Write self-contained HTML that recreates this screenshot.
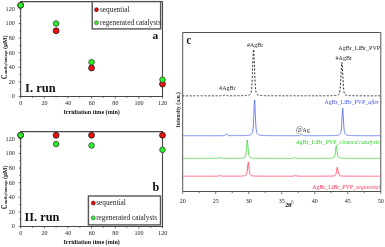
<!DOCTYPE html>
<html><head><meta charset="utf-8"><style>
html,body{margin:0;padding:0;background:#fff;width:385px;height:247px;overflow:hidden}
svg{display:block}
text{font-family:"Liberation Serif", "Times New Roman", serif;fill:#222}
.tk{font-size:6.8px;fill:#222}
.xt{font-size:6.55px;font-weight:bold;fill:#111}
.yt{font-size:7.5px;font-weight:bold;fill:#1a1a1a}
.yt.sub{font-size:4.1px}
.yt.um{font-size:6.5px}
.run{font-size:13px;font-weight:bold;fill:#111}
.pl{font-size:11px;font-weight:bold;fill:#111}
.lg{font-size:7.3px;fill:#222}
.cl{font-size:7.0px;fill:#2a2a2a}
.xt2{font-size:6.8px;font-weight:bold;fill:#222}
.deg{font-size:5.2px;font-weight:normal;fill:#555}
.yt2{font-size:5.65px;font-weight:bold;fill:#222}
</style></head><body>
<svg width="385" height="247" viewBox="0 0 385 247">
<path d="M20.65 1.6H162.5V96.5H20.65Z" fill="none" stroke="#474747" stroke-width="1.1"/>
<path d="M18.65 96.5H20.65" stroke="#474747" stroke-width="0.8"/>
<text transform="translate(14.75 98.4) scale(0.9 1)" text-anchor="end" class="tk">0</text>
<path d="M19.35 89.2H20.65" stroke="#474747" stroke-width="0.8"/>
<path d="M18.65 81.9H20.65" stroke="#474747" stroke-width="0.8"/>
<text transform="translate(14.75 83.8) scale(0.9 1)" text-anchor="end" class="tk">20</text>
<path d="M19.35 74.6H20.65" stroke="#474747" stroke-width="0.8"/>
<path d="M18.65 67.3H20.65" stroke="#474747" stroke-width="0.8"/>
<text transform="translate(14.75 69.2) scale(0.9 1)" text-anchor="end" class="tk">40</text>
<path d="M19.35 60H20.65" stroke="#474747" stroke-width="0.8"/>
<path d="M18.65 52.7H20.65" stroke="#474747" stroke-width="0.8"/>
<text transform="translate(14.75 54.6) scale(0.9 1)" text-anchor="end" class="tk">60</text>
<path d="M19.35 45.4H20.65" stroke="#474747" stroke-width="0.8"/>
<path d="M18.65 38.1H20.65" stroke="#474747" stroke-width="0.8"/>
<text transform="translate(14.75 40) scale(0.9 1)" text-anchor="end" class="tk">80</text>
<path d="M19.35 30.8H20.65" stroke="#474747" stroke-width="0.8"/>
<path d="M18.65 23.5H20.65" stroke="#474747" stroke-width="0.8"/>
<text transform="translate(14.75 25.4) scale(0.9 1)" text-anchor="end" class="tk">100</text>
<path d="M19.35 16.2H20.65" stroke="#474747" stroke-width="0.8"/>
<path d="M18.65 8.9H20.65" stroke="#474747" stroke-width="0.8"/>
<text transform="translate(14.75 10.8) scale(0.9 1)" text-anchor="end" class="tk">120</text>
<path d="M20.65 96.5V98.5" stroke="#474747" stroke-width="0.8"/>
<text transform="translate(20.85 105.4) scale(0.9 1)" text-anchor="middle" class="tk">0</text>
<path d="M32.47 96.5V97.8" stroke="#474747" stroke-width="0.8"/>
<path d="M44.29 96.5V98.5" stroke="#474747" stroke-width="0.8"/>
<text transform="translate(44.49 105.4) scale(0.9 1)" text-anchor="middle" class="tk">20</text>
<path d="M56.11 96.5V97.8" stroke="#474747" stroke-width="0.8"/>
<path d="M67.93 96.5V98.5" stroke="#474747" stroke-width="0.8"/>
<text transform="translate(68.13 105.4) scale(0.9 1)" text-anchor="middle" class="tk">40</text>
<path d="M79.75 96.5V97.8" stroke="#474747" stroke-width="0.8"/>
<path d="M91.57 96.5V98.5" stroke="#474747" stroke-width="0.8"/>
<text transform="translate(91.77 105.4) scale(0.9 1)" text-anchor="middle" class="tk">60</text>
<path d="M103.4 96.5V97.8" stroke="#474747" stroke-width="0.8"/>
<path d="M115.22 96.5V98.5" stroke="#474747" stroke-width="0.8"/>
<text transform="translate(115.42 105.4) scale(0.9 1)" text-anchor="middle" class="tk">80</text>
<path d="M127.04 96.5V97.8" stroke="#474747" stroke-width="0.8"/>
<path d="M138.86 96.5V98.5" stroke="#474747" stroke-width="0.8"/>
<text transform="translate(139.06 105.4) scale(0.9 1)" text-anchor="middle" class="tk">100</text>
<path d="M150.68 96.5V97.8" stroke="#474747" stroke-width="0.8"/>
<path d="M162.5 96.5V98.5" stroke="#474747" stroke-width="0.8"/>
<text transform="translate(162.7 105.4) scale(0.9 1)" text-anchor="middle" class="tk">120</text>
<text transform="translate(91.6 113.8) scale(0.93 1)" text-anchor="middle" class="xt">Irridiation time (min)</text>
<text transform="translate(6.6 78.9) rotate(-90) scale(0.82 1)" class="yt">C</text>
<text transform="translate(6.9 74.3) rotate(-90)" class="yt sub">methylorange</text>
<text transform="translate(6.6 48.9) rotate(-90) scale(0.95 1)" class="yt um">(μM)</text>
<text transform="translate(25 92.3) scale(0.965 1)" class="run">I. run</text>
<text x="152.5" y="39.4" class="pl" style="font-size:11.4px">a</text>
<rect x="92.2" y="1.6" width="68.4" height="27.3" fill="#fff" stroke="#555" stroke-width="1.4"/>
<circle cx="96.5" cy="9.7" r="2.0" fill="#f00" stroke="#222" stroke-width="0.6"/>
<text x="100" y="12" class="lg">sequential</text>
<circle cx="96.5" cy="22.8" r="2.0" fill="#3e3" stroke="#444" stroke-width="0.6"/>
<text x="100" y="24.9" class="lg">regenerated catalysts</text>
<circle cx="20.65" cy="5.25" r="2.95" fill="#f01010" stroke="#111" stroke-width="0.75"/>
<circle cx="20.65" cy="5.25" r="2.8" fill="#26f526" stroke="#333" stroke-width="0.75"/>
<circle cx="56.11" cy="30.8" r="2.95" fill="#f01010" stroke="#111" stroke-width="0.75"/>
<circle cx="56.11" cy="23.5" r="2.8" fill="#26f526" stroke="#333" stroke-width="0.75"/>
<circle cx="91.57" cy="68.03" r="2.95" fill="#f01010" stroke="#111" stroke-width="0.75"/>
<circle cx="91.57" cy="62.19" r="2.8" fill="#26f526" stroke="#333" stroke-width="0.75"/>
<circle cx="162.5" cy="84.09" r="2.95" fill="#f01010" stroke="#111" stroke-width="0.75"/>
<circle cx="162.5" cy="79.71" r="2.8" fill="#26f526" stroke="#333" stroke-width="0.75"/>
<path d="M20.65 131.6H162.5V226.5H20.65Z" fill="none" stroke="#474747" stroke-width="1.1"/>
<path d="M18.65 226.5H20.65" stroke="#474747" stroke-width="0.8"/>
<text transform="translate(14.75 228.4) scale(0.9 1)" text-anchor="end" class="tk">0</text>
<path d="M19.35 219.2H20.65" stroke="#474747" stroke-width="0.8"/>
<path d="M18.65 211.9H20.65" stroke="#474747" stroke-width="0.8"/>
<text transform="translate(14.75 213.8) scale(0.9 1)" text-anchor="end" class="tk">20</text>
<path d="M19.35 204.6H20.65" stroke="#474747" stroke-width="0.8"/>
<path d="M18.65 197.3H20.65" stroke="#474747" stroke-width="0.8"/>
<text transform="translate(14.75 199.2) scale(0.9 1)" text-anchor="end" class="tk">40</text>
<path d="M19.35 190H20.65" stroke="#474747" stroke-width="0.8"/>
<path d="M18.65 182.7H20.65" stroke="#474747" stroke-width="0.8"/>
<text transform="translate(14.75 184.6) scale(0.9 1)" text-anchor="end" class="tk">60</text>
<path d="M19.35 175.4H20.65" stroke="#474747" stroke-width="0.8"/>
<path d="M18.65 168.1H20.65" stroke="#474747" stroke-width="0.8"/>
<text transform="translate(14.75 170) scale(0.9 1)" text-anchor="end" class="tk">80</text>
<path d="M19.35 160.8H20.65" stroke="#474747" stroke-width="0.8"/>
<path d="M18.65 153.5H20.65" stroke="#474747" stroke-width="0.8"/>
<text transform="translate(14.75 155.4) scale(0.9 1)" text-anchor="end" class="tk">100</text>
<path d="M19.35 146.2H20.65" stroke="#474747" stroke-width="0.8"/>
<path d="M18.65 138.9H20.65" stroke="#474747" stroke-width="0.8"/>
<text transform="translate(14.75 140.8) scale(0.9 1)" text-anchor="end" class="tk">120</text>
<path d="M20.65 226.5V228.5" stroke="#474747" stroke-width="0.8"/>
<text transform="translate(20.85 235.4) scale(0.9 1)" text-anchor="middle" class="tk">0</text>
<path d="M32.47 226.5V227.8" stroke="#474747" stroke-width="0.8"/>
<path d="M44.29 226.5V228.5" stroke="#474747" stroke-width="0.8"/>
<text transform="translate(44.49 235.4) scale(0.9 1)" text-anchor="middle" class="tk">20</text>
<path d="M56.11 226.5V227.8" stroke="#474747" stroke-width="0.8"/>
<path d="M67.93 226.5V228.5" stroke="#474747" stroke-width="0.8"/>
<text transform="translate(68.13 235.4) scale(0.9 1)" text-anchor="middle" class="tk">40</text>
<path d="M79.75 226.5V227.8" stroke="#474747" stroke-width="0.8"/>
<path d="M91.57 226.5V228.5" stroke="#474747" stroke-width="0.8"/>
<text transform="translate(91.77 235.4) scale(0.9 1)" text-anchor="middle" class="tk">60</text>
<path d="M103.4 226.5V227.8" stroke="#474747" stroke-width="0.8"/>
<path d="M115.22 226.5V228.5" stroke="#474747" stroke-width="0.8"/>
<text transform="translate(115.42 235.4) scale(0.9 1)" text-anchor="middle" class="tk">80</text>
<path d="M127.04 226.5V227.8" stroke="#474747" stroke-width="0.8"/>
<path d="M138.86 226.5V228.5" stroke="#474747" stroke-width="0.8"/>
<text transform="translate(139.06 235.4) scale(0.9 1)" text-anchor="middle" class="tk">100</text>
<path d="M150.68 226.5V227.8" stroke="#474747" stroke-width="0.8"/>
<path d="M162.5 226.5V228.5" stroke="#474747" stroke-width="0.8"/>
<text transform="translate(162.7 235.4) scale(0.9 1)" text-anchor="middle" class="tk">120</text>
<text transform="translate(91.6 243.8) scale(0.93 1)" text-anchor="middle" class="xt">Irridiation time (min)</text>
<text transform="translate(6.6 208.9) rotate(-90) scale(0.82 1)" class="yt">C</text>
<text transform="translate(6.9 204.3) rotate(-90)" class="yt sub">methylorange</text>
<text transform="translate(6.6 178.9) rotate(-90) scale(0.95 1)" class="yt um">(μM)</text>
<text transform="translate(24.4 221.3) scale(0.95 1)" class="run">II. run</text>
<text x="152.4" y="190.6" class="pl" style="font-size:12.2px">b</text>
<rect x="88.4" y="196" width="72.1" height="28.9" fill="#fff" stroke="#555" stroke-width="1.4"/>
<circle cx="93.3" cy="203.1" r="2.0" fill="#f00" stroke="#222" stroke-width="0.6"/>
<text x="96.2" y="205.4" class="lg">sequential</text>
<circle cx="93.3" cy="217.9" r="2.0" fill="#3e3" stroke="#444" stroke-width="0.6"/>
<text x="96.2" y="219.9" class="lg">regenerated catalysts</text>
<circle cx="20.65" cy="135.25" r="2.95" fill="#f01010" stroke="#111" stroke-width="0.75"/>
<circle cx="20.65" cy="135.25" r="2.8" fill="#26f526" stroke="#333" stroke-width="0.75"/>
<circle cx="56.11" cy="135.25" r="2.95" fill="#f01010" stroke="#111" stroke-width="0.75"/>
<circle cx="56.11" cy="144.01" r="2.8" fill="#26f526" stroke="#333" stroke-width="0.75"/>
<circle cx="91.57" cy="135.25" r="2.95" fill="#f01010" stroke="#111" stroke-width="0.75"/>
<circle cx="91.57" cy="145.47" r="2.8" fill="#26f526" stroke="#333" stroke-width="0.75"/>
<circle cx="162.5" cy="135.25" r="2.95" fill="#f01010" stroke="#111" stroke-width="0.75"/>
<circle cx="162.5" cy="149.85" r="2.8" fill="#26f526" stroke="#333" stroke-width="0.75"/>
<path d="M182.7 32.5H380.8V191.5H182.7Z" fill="none" stroke="#4a4a4a" stroke-width="0.95"/>
<path d="M182.7 191.5V194.1" stroke="#555" stroke-width="0.8"/>
<text transform="translate(182.7 202.5) scale(0.9 1)" text-anchor="middle" class="tk">20</text>
<path d="M199.21 191.5V193.1" stroke="#555" stroke-width="0.8"/>
<path d="M215.72 191.5V194.1" stroke="#555" stroke-width="0.8"/>
<text transform="translate(215.72 202.5) scale(0.9 1)" text-anchor="middle" class="tk">25</text>
<path d="M232.22 191.5V193.1" stroke="#555" stroke-width="0.8"/>
<path d="M248.73 191.5V194.1" stroke="#555" stroke-width="0.8"/>
<text transform="translate(248.73 202.5) scale(0.9 1)" text-anchor="middle" class="tk">30</text>
<path d="M265.24 191.5V193.1" stroke="#555" stroke-width="0.8"/>
<path d="M281.75 191.5V194.1" stroke="#555" stroke-width="0.8"/>
<text transform="translate(281.75 202.5) scale(0.9 1)" text-anchor="middle" class="tk">35</text>
<path d="M298.26 191.5V193.1" stroke="#555" stroke-width="0.8"/>
<path d="M314.77 191.5V194.1" stroke="#555" stroke-width="0.8"/>
<text transform="translate(314.77 202.5) scale(0.9 1)" text-anchor="middle" class="tk">40</text>
<path d="M331.27 191.5V193.1" stroke="#555" stroke-width="0.8"/>
<path d="M347.78 191.5V194.1" stroke="#555" stroke-width="0.8"/>
<text transform="translate(347.78 202.5) scale(0.9 1)" text-anchor="middle" class="tk">45</text>
<path d="M364.29 191.5V193.1" stroke="#555" stroke-width="0.8"/>
<path d="M380.8 191.5V194.1" stroke="#555" stroke-width="0.8"/>
<text transform="translate(380.8 202.5) scale(0.9 1)" text-anchor="middle" class="tk">50</text>
<text x="285.1" y="206.7" class="xt2">2<tspan style="font-family:'DejaVu Serif',serif;font-size:5.3px" dx="-0.5">θ</tspan><tspan class="deg" dx="-0.5" dy="-2.6">0</tspan></text>
<text transform="translate(179.9 109.8) rotate(-90)" text-anchor="middle" class="yt2">Intensity (a.u.)</text>
<text transform="translate(186.4 44.1) scale(0.82 1)" class="pl" style="font-size:12.6px">c</text>
<polyline points="182.2,95.8 182.45,95.8 182.7,95.8 182.95,95.8 183.2,95.8 183.45,95.8 183.7,95.8 183.95,95.8 184.2,95.8 184.45,95.8 184.7,95.8 184.95,95.8 185.2,95.8 185.45,95.8 185.7,95.8 185.95,95.8 186.2,95.8 186.45,95.8 186.7,95.8 186.95,95.8 187.2,95.8 187.45,95.8 187.7,95.8 187.95,95.8 188.2,95.8 188.45,95.8 188.7,95.8 188.95,95.8 189.2,95.8 189.45,95.8 189.7,95.8 189.95,95.8 190.2,95.8 190.45,95.79 190.7,95.79 190.95,95.79 191.2,95.79 191.45,95.79 191.7,95.79 191.95,95.79 192.2,95.79 192.45,95.79 192.7,95.79 192.95,95.79 193.2,95.79 193.45,95.79 193.7,95.79 193.95,95.79 194.2,95.79 194.45,95.79 194.7,95.79 194.95,95.79 195.2,95.79 195.45,95.79 195.7,95.79 195.95,95.79 196.2,95.79 196.45,95.79 196.7,95.79 196.95,95.79 197.2,95.79 197.45,95.79 197.7,95.79 197.95,95.79 198.2,95.79 198.45,95.79 198.7,95.79 198.95,95.79 199.2,95.79 199.45,95.79 199.7,95.79 199.95,95.79 200.2,95.79 200.45,95.79 200.7,95.79 200.95,95.79 201.2,95.79 201.45,95.79 201.7,95.79 201.95,95.79 202.2,95.79 202.45,95.79 202.7,95.79 202.95,95.79 203.2,95.79 203.45,95.79 203.7,95.79 203.95,95.79 204.2,95.79 204.45,95.79 204.7,95.79 204.95,95.79 205.2,95.79 205.45,95.79 205.7,95.79 205.95,95.79 206.2,95.79 206.45,95.79 206.7,95.79 206.95,95.79 207.2,95.79 207.45,95.79 207.7,95.79 207.95,95.79 208.2,95.79 208.45,95.79 208.7,95.79 208.95,95.79 209.2,95.79 209.45,95.79 209.7,95.79 209.95,95.79 210.2,95.79 210.45,95.79 210.7,95.79 210.95,95.79 211.2,95.79 211.45,95.79 211.7,95.79 211.95,95.79 212.2,95.79 212.45,95.79 212.7,95.79 212.95,95.79 213.2,95.79 213.45,95.79 213.7,95.79 213.95,95.79 214.2,95.79 214.45,95.79 214.7,95.79 214.95,95.79 215.2,95.78 215.45,95.78 215.7,95.78 215.95,95.78 216.2,95.78 216.45,95.78 216.7,95.78 216.95,95.78 217.2,95.78 217.45,95.78 217.7,95.78 217.95,95.78 218.2,95.78 218.45,95.78 218.7,95.78 218.95,95.78 219.2,95.78 219.45,95.78 219.7,95.78 219.95,95.77 220.2,95.77 220.45,95.77 220.7,95.77 220.95,95.77 221.2,95.77 221.45,95.76 221.7,95.76 221.95,95.76 222.2,95.75 222.45,95.74 222.7,95.73 222.95,95.7 223.2,95.67 223.45,95.62 223.7,95.54 223.95,95.45 224.2,95.33 224.45,95.21 224.7,95.09 224.95,95.01 225.2,94.98 225.45,95.01 225.7,95.09 225.95,95.21 226.2,95.33 226.45,95.44 226.7,95.54 226.95,95.61 227.2,95.66 227.45,95.7 227.7,95.72 227.95,95.73 228.2,95.74 228.45,95.75 228.7,95.75 228.95,95.75 229.2,95.75 229.45,95.75 229.7,95.76 229.95,95.76 230.2,95.76 230.45,95.76 230.7,95.76 230.95,95.76 231.2,95.76 231.45,95.76 231.7,95.76 231.95,95.76 232.2,95.76 232.45,95.76 232.7,95.76 232.95,95.75 233.2,95.75 233.45,95.75 233.7,95.75 233.95,95.75 234.2,95.75 234.45,95.75 234.7,95.75 234.95,95.75 235.2,95.75 235.45,95.74 235.7,95.74 235.95,95.74 236.2,95.74 236.45,95.74 236.7,95.74 236.95,95.74 237.2,95.73 237.45,95.73 237.7,95.73 237.95,95.73 238.2,95.73 238.45,95.72 238.7,95.72 238.95,95.72 239.2,95.72 239.45,95.71 239.7,95.71 239.95,95.71 240.2,95.7 240.45,95.7 240.7,95.7 240.95,95.69 241.2,95.69 241.45,95.68 241.7,95.68 241.95,95.67 242.2,95.67 242.45,95.66 242.7,95.66 242.95,95.65 243.2,95.64 243.45,95.63 243.7,95.63 243.95,95.62 244.2,95.61 244.45,95.6 244.7,95.59 244.95,95.57 245.2,95.56 245.45,95.55 245.7,95.53 245.95,95.51 246.2,95.49 246.45,95.47 246.7,95.45 246.95,95.42 247.2,95.4 247.45,95.36 247.7,95.33 247.95,95.29 248.2,95.24 248.45,95.19 248.7,95.12 248.95,95.05 249.2,94.97 249.45,94.87 249.7,94.76 249.95,94.61 250.2,94.42 250.45,94.16 250.7,93.77 250.95,93.15 251.2,92.15 251.45,90.57 251.7,88.13 251.95,84.59 252.2,79.78 252.45,73.73 252.7,66.79 252.95,59.67 253.2,53.51 253.45,49.67 253.7,49.3 253.95,52.51 254.2,58.32 254.45,65.35 254.7,72.4 254.95,78.66 255.2,83.73 255.45,87.52 255.7,90.16 255.95,91.89 256.2,92.98 256.45,93.67 256.7,94.09 256.95,94.38 257.2,94.58 257.45,94.73 257.7,94.85 257.95,94.95 258.2,95.04 258.45,95.11 258.7,95.17 258.95,95.23 259.2,95.28 259.45,95.32 259.7,95.36 259.95,95.39 260.2,95.42 260.45,95.44 260.7,95.47 260.95,95.49 261.2,95.51 261.45,95.53 261.7,95.54 261.95,95.56 262.2,95.57 262.45,95.58 262.7,95.6 262.95,95.61 263.2,95.62 263.45,95.62 263.7,95.63 263.95,95.64 264.2,95.65 264.45,95.65 264.7,95.66 264.95,95.67 265.2,95.67 265.45,95.68 265.7,95.68 265.95,95.69 266.2,95.69 266.45,95.7 266.7,95.7 266.95,95.7 267.2,95.71 267.45,95.71 267.7,95.71 267.95,95.72 268.2,95.72 268.45,95.72 268.7,95.72 268.95,95.73 269.2,95.73 269.45,95.73 269.7,95.73 269.95,95.73 270.2,95.74 270.45,95.74 270.7,95.74 270.95,95.74 271.2,95.74 271.45,95.74 271.7,95.75 271.95,95.75 272.2,95.75 272.45,95.75 272.7,95.75 272.95,95.75 273.2,95.75 273.45,95.75 273.7,95.76 273.95,95.76 274.2,95.76 274.45,95.76 274.7,95.76 274.95,95.76 275.2,95.76 275.45,95.76 275.7,95.76 275.95,95.76 276.2,95.76 276.45,95.76 276.7,95.77 276.95,95.77 277.2,95.77 277.45,95.77 277.7,95.77 277.95,95.77 278.2,95.77 278.45,95.77 278.7,95.77 278.95,95.77 279.2,95.77 279.45,95.77 279.7,95.77 279.95,95.77 280.2,95.77 280.45,95.77 280.7,95.77 280.95,95.77 281.2,95.77 281.45,95.77 281.7,95.78 281.95,95.78 282.2,95.78 282.45,95.78 282.7,95.78 282.95,95.78 283.2,95.78 283.45,95.78 283.7,95.78 283.95,95.78 284.2,95.78 284.45,95.78 284.7,95.78 284.95,95.78 285.2,95.78 285.45,95.78 285.7,95.78 285.95,95.78 286.2,95.78 286.45,95.78 286.7,95.78 286.95,95.78 287.2,95.78 287.45,95.78 287.7,95.78 287.95,95.78 288.2,95.78 288.45,95.78 288.7,95.78 288.95,95.78 289.2,95.78 289.45,95.78 289.7,95.78 289.95,95.78 290.2,95.78 290.45,95.78 290.7,95.78 290.95,95.78 291.2,95.78 291.45,95.78 291.7,95.78 291.95,95.78 292.2,95.78 292.45,95.78 292.7,95.78 292.95,95.78 293.2,95.78 293.45,95.78 293.7,95.78 293.95,95.78 294.2,95.78 294.45,95.78 294.7,95.78 294.95,95.78 295.2,95.78 295.45,95.78 295.7,95.78 295.95,95.78 296.2,95.78 296.45,95.78 296.7,95.78 296.95,95.78 297.2,95.78 297.45,95.78 297.7,95.78 297.95,95.79 298.2,95.79 298.45,95.79 298.7,95.79 298.95,95.79 299.2,95.79 299.45,95.79 299.7,95.79 299.95,95.79 300.2,95.79 300.45,95.79 300.7,95.79 300.95,95.79 301.2,95.79 301.45,95.79 301.7,95.79 301.95,95.79 302.2,95.79 302.45,95.79 302.7,95.78 302.95,95.78 303.2,95.78 303.45,95.78 303.7,95.78 303.95,95.78 304.2,95.78 304.45,95.78 304.7,95.78 304.95,95.78 305.2,95.78 305.45,95.78 305.7,95.78 305.95,95.78 306.2,95.78 306.45,95.78 306.7,95.78 306.95,95.78 307.2,95.78 307.45,95.78 307.7,95.78 307.95,95.78 308.2,95.78 308.45,95.78 308.7,95.78 308.95,95.78 309.2,95.78 309.45,95.78 309.7,95.78 309.95,95.78 310.2,95.78 310.45,95.78 310.7,95.78 310.95,95.78 311.2,95.78 311.45,95.78 311.7,95.78 311.95,95.78 312.2,95.78 312.45,95.78 312.7,95.78 312.95,95.78 313.2,95.78 313.45,95.78 313.7,95.78 313.95,95.78 314.2,95.78 314.45,95.78 314.7,95.78 314.95,95.78 315.2,95.78 315.45,95.78 315.7,95.78 315.95,95.78 316.2,95.78 316.45,95.78 316.7,95.78 316.95,95.78 317.2,95.78 317.45,95.78 317.7,95.78 317.95,95.77 318.2,95.77 318.45,95.77 318.7,95.77 318.95,95.77 319.2,95.77 319.45,95.77 319.7,95.77 319.95,95.77 320.2,95.77 320.45,95.77 320.7,95.77 320.95,95.77 321.2,95.77 321.45,95.77 321.7,95.77 321.95,95.77 322.2,95.77 322.45,95.76 322.7,95.76 322.95,95.76 323.2,95.76 323.45,95.76 323.7,95.76 323.95,95.76 324.2,95.76 324.45,95.76 324.7,95.76 324.95,95.75 325.2,95.75 325.45,95.75 325.7,95.75 325.95,95.75 326.2,95.75 326.45,95.75 326.7,95.74 326.95,95.74 327.2,95.74 327.45,95.74 327.7,95.74 327.95,95.73 328.2,95.73 328.45,95.73 328.7,95.73 328.95,95.72 329.2,95.72 329.45,95.72 329.7,95.72 329.95,95.71 330.2,95.71 330.45,95.7 330.7,95.7 330.95,95.7 331.2,95.69 331.45,95.69 331.7,95.68 331.95,95.68 332.2,95.67 332.45,95.66 332.7,95.66 332.95,95.65 333.2,95.64 333.45,95.63 333.7,95.62 333.95,95.61 334.2,95.6 334.45,95.58 334.7,95.57 334.95,95.55 335.2,95.53 335.45,95.51 335.7,95.49 335.95,95.46 336.2,95.44 336.45,95.4 336.7,95.37 336.95,95.32 337.2,95.27 337.45,95.22 337.7,95.15 337.95,95.07 338.2,94.97 338.45,94.84 338.7,94.67 338.95,94.41 339.2,94 339.45,93.35 339.7,92.31 339.95,90.7 340.2,88.33 340.45,85.06 340.7,80.89 340.95,76 341.2,70.86 341.45,66.22 341.7,63.05 341.95,62.25 342.2,64.08 342.45,67.96 342.7,72.9 342.95,78.02 343.2,82.66 343.45,86.48 343.7,89.38 343.95,91.43 344.2,92.79 344.45,93.65 344.7,94.19 344.95,94.52 345.2,94.74 345.45,94.9 345.7,95.01 345.95,95.1 346.2,95.18 346.45,95.24 346.7,95.3 346.95,95.34 347.2,95.38 347.45,95.42 347.7,95.45 347.95,95.48 348.2,95.5 348.45,95.52 348.7,95.54 348.95,95.56 349.2,95.57 349.45,95.59 349.7,95.6 349.95,95.61 350.2,95.62 350.45,95.63 350.7,95.64 350.95,95.65 351.2,95.66 351.45,95.67 351.7,95.67 351.95,95.68 352.2,95.68 352.45,95.69 352.7,95.69 352.95,95.7 353.2,95.7 353.45,95.71 353.7,95.71 353.95,95.71 354.2,95.72 354.45,95.72 354.7,95.72 354.95,95.73 355.2,95.73 355.45,95.73 355.7,95.73 355.95,95.74 356.2,95.74 356.45,95.74 356.7,95.74 356.95,95.74 357.2,95.75 357.45,95.75 357.7,95.75 357.95,95.75 358.2,95.75 358.45,95.75 358.7,95.76 358.95,95.76 359.2,95.76 359.45,95.76 359.7,95.76 359.95,95.76 360.2,95.76 360.45,95.76 360.7,95.76 360.95,95.77 361.2,95.77 361.45,95.77 361.7,95.77 361.95,95.77 362.2,95.77 362.45,95.77 362.7,95.77 362.95,95.77 363.2,95.77 363.45,95.77 363.7,95.77 363.95,95.77 364.2,95.77 364.45,95.77 364.7,95.78 364.95,95.78 365.2,95.78 365.45,95.78 365.7,95.78 365.95,95.78 366.2,95.78 366.45,95.78 366.7,95.78 366.95,95.78 367.2,95.78 367.45,95.78 367.7,95.78 367.95,95.78 368.2,95.78 368.45,95.78 368.7,95.78 368.95,95.78 369.2,95.78 369.45,95.78 369.7,95.78 369.95,95.78 370.2,95.78 370.45,95.78 370.7,95.78 370.95,95.78 371.2,95.78 371.45,95.78 371.7,95.79 371.95,95.79 372.2,95.79 372.45,95.79 372.7,95.79 372.95,95.79 373.2,95.79 373.45,95.79 373.7,95.79 373.95,95.79 374.2,95.79 374.45,95.79 374.7,95.79 374.95,95.79 375.2,95.79 375.45,95.79 375.7,95.79 375.95,95.79 376.2,95.79 376.45,95.79 376.7,95.79 376.95,95.79 377.2,95.79 377.45,95.79 377.7,95.79 377.95,95.79 378.2,95.79 378.45,95.79 378.7,95.79 378.95,95.79 379.2,95.79 379.45,95.79 379.7,95.79 379.95,95.79 380.2,95.79" fill="none" stroke="#333" stroke-width="1" stroke-dasharray="2.1 1.6"/>
<polyline points="183.2,135.7 183.45,135.7 183.7,135.7 183.95,135.7 184.2,135.7 184.45,135.7 184.7,135.7 184.95,135.7 185.2,135.7 185.45,135.7 185.7,135.7 185.95,135.7 186.2,135.7 186.45,135.7 186.7,135.7 186.95,135.7 187.2,135.7 187.45,135.7 187.7,135.7 187.95,135.7 188.2,135.7 188.45,135.7 188.7,135.7 188.95,135.7 189.2,135.7 189.45,135.7 189.7,135.7 189.95,135.69 190.2,135.69 190.45,135.69 190.7,135.69 190.95,135.69 191.2,135.69 191.45,135.69 191.7,135.69 191.95,135.69 192.2,135.69 192.45,135.69 192.7,135.69 192.95,135.69 193.2,135.69 193.45,135.69 193.7,135.69 193.95,135.69 194.2,135.69 194.45,135.69 194.7,135.69 194.95,135.69 195.2,135.69 195.45,135.69 195.7,135.69 195.95,135.69 196.2,135.69 196.45,135.69 196.7,135.69 196.95,135.69 197.2,135.69 197.45,135.69 197.7,135.69 197.95,135.69 198.2,135.69 198.45,135.69 198.7,135.69 198.95,135.69 199.2,135.69 199.45,135.69 199.7,135.69 199.95,135.69 200.2,135.69 200.45,135.69 200.7,135.69 200.95,135.69 201.2,135.69 201.45,135.69 201.7,135.69 201.95,135.69 202.2,135.69 202.45,135.69 202.7,135.69 202.95,135.69 203.2,135.69 203.45,135.69 203.7,135.69 203.95,135.69 204.2,135.69 204.45,135.69 204.7,135.69 204.95,135.69 205.2,135.69 205.45,135.69 205.7,135.69 205.95,135.69 206.2,135.69 206.45,135.69 206.7,135.69 206.95,135.69 207.2,135.69 207.45,135.69 207.7,135.69 207.95,135.69 208.2,135.69 208.45,135.69 208.7,135.69 208.95,135.69 209.2,135.69 209.45,135.69 209.7,135.69 209.95,135.69 210.2,135.69 210.45,135.69 210.7,135.69 210.95,135.69 211.2,135.69 211.45,135.69 211.7,135.69 211.95,135.69 212.2,135.69 212.45,135.69 212.7,135.69 212.95,135.69 213.2,135.69 213.45,135.69 213.7,135.69 213.95,135.69 214.2,135.69 214.45,135.69 214.7,135.69 214.95,135.68 215.2,135.68 215.45,135.68 215.7,135.68 215.95,135.68 216.2,135.68 216.45,135.68 216.7,135.68 216.95,135.68 217.2,135.68 217.45,135.68 217.7,135.68 217.95,135.68 218.2,135.68 218.45,135.68 218.7,135.68 218.95,135.68 219.2,135.68 219.45,135.68 219.7,135.68 219.95,135.67 220.2,135.67 220.45,135.67 220.7,135.67 220.95,135.67 221.2,135.67 221.45,135.67 221.7,135.66 221.95,135.66 222.2,135.66 222.45,135.66 222.7,135.65 222.95,135.65 223.2,135.64 223.45,135.63 223.7,135.62 223.95,135.61 224.2,135.58 224.45,135.54 224.7,135.45 224.95,135.32 225.2,135.12 225.45,134.84 225.7,134.51 225.95,134.19 226.2,133.94 226.45,133.88 226.7,134.02 226.95,134.31 227.2,134.64 227.45,134.95 227.7,135.2 227.95,135.38 228.2,135.49 228.45,135.55 228.7,135.59 228.95,135.61 229.2,135.62 229.45,135.62 229.7,135.63 229.95,135.63 230.2,135.64 230.45,135.64 230.7,135.64 230.95,135.64 231.2,135.64 231.45,135.64 231.7,135.64 231.95,135.64 232.2,135.63 232.45,135.63 232.7,135.61 232.95,135.58 233.2,135.53 233.45,135.44 233.7,135.33 233.95,135.19 234.2,135.08 234.45,135.05 234.7,135.12 234.95,135.24 235.2,135.37 235.45,135.48 235.7,135.55 235.95,135.59 236.2,135.61 236.45,135.62 236.7,135.62 236.95,135.63 237.2,135.63 237.45,135.63 237.7,135.63 237.95,135.63 238.2,135.63 238.45,135.62 238.7,135.62 238.95,135.62 239.2,135.62 239.45,135.62 239.7,135.62 239.95,135.61 240.2,135.61 240.45,135.61 240.7,135.61 240.95,135.6 241.2,135.6 241.45,135.6 241.7,135.59 241.95,135.59 242.2,135.59 242.45,135.58 242.7,135.58 242.95,135.57 243.2,135.57 243.45,135.56 243.7,135.55 243.95,135.55 244.2,135.54 244.45,135.53 244.7,135.52 244.95,135.52 245.2,135.51 245.45,135.5 245.7,135.48 245.95,135.47 246.2,135.46 246.45,135.44 246.7,135.43 246.95,135.41 247.2,135.39 247.45,135.37 247.7,135.35 247.95,135.32 248.2,135.29 248.45,135.26 248.7,135.22 248.95,135.18 249.2,135.13 249.45,135.07 249.7,135.01 249.95,134.94 250.2,134.85 250.45,134.75 250.7,134.63 250.95,134.49 251.2,134.31 251.45,134.1 251.7,133.83 251.95,133.49 252.2,133.02 252.45,132.37 252.7,131.38 252.95,129.83 253.2,127.43 253.45,123.82 253.7,118.78 253.95,112.4 254.2,105.57 254.45,100.48 254.7,99.94 254.95,104.31 255.2,111.02 255.45,117.6 255.7,122.93 255.95,126.81 256.2,129.43 256.45,131.12 256.7,132.2 256.95,132.91 257.2,133.41 257.45,133.77 257.7,134.05 257.95,134.27 258.2,134.45 258.45,134.6 258.7,134.73 258.95,134.83 259.2,134.92 259.45,135 259.7,135.06 259.95,135.12 260.2,135.17 260.45,135.21 260.7,135.25 260.95,135.28 261.2,135.31 261.45,135.34 261.7,135.36 261.95,135.39 262.2,135.41 262.45,135.42 262.7,135.44 262.95,135.46 263.2,135.47 263.45,135.48 263.7,135.49 263.95,135.5 264.2,135.51 264.45,135.52 264.7,135.53 264.95,135.54 265.2,135.55 265.45,135.55 265.7,135.56 265.95,135.57 266.2,135.57 266.45,135.58 266.7,135.58 266.95,135.59 267.2,135.59 267.45,135.59 267.7,135.6 267.95,135.6 268.2,135.61 268.45,135.61 268.7,135.61 268.95,135.61 269.2,135.62 269.45,135.62 269.7,135.62 269.95,135.62 270.2,135.63 270.45,135.63 270.7,135.63 270.95,135.63 271.2,135.64 271.45,135.64 271.7,135.64 271.95,135.64 272.2,135.64 272.45,135.64 272.7,135.64 272.95,135.65 273.2,135.65 273.45,135.65 273.7,135.65 273.95,135.65 274.2,135.65 274.45,135.65 274.7,135.65 274.95,135.66 275.2,135.66 275.45,135.66 275.7,135.66 275.95,135.66 276.2,135.66 276.45,135.66 276.7,135.66 276.95,135.66 277.2,135.66 277.45,135.66 277.7,135.66 277.95,135.66 278.2,135.67 278.45,135.67 278.7,135.67 278.95,135.67 279.2,135.67 279.45,135.67 279.7,135.67 279.95,135.67 280.2,135.67 280.45,135.67 280.7,135.67 280.95,135.67 281.2,135.67 281.45,135.67 281.7,135.67 281.95,135.67 282.2,135.67 282.45,135.67 282.7,135.67 282.95,135.67 283.2,135.67 283.45,135.67 283.7,135.67 283.95,135.68 284.2,135.68 284.45,135.68 284.7,135.68 284.95,135.68 285.2,135.68 285.45,135.68 285.7,135.68 285.95,135.68 286.2,135.68 286.45,135.68 286.7,135.68 286.95,135.68 287.2,135.68 287.45,135.68 287.7,135.68 287.95,135.68 288.2,135.68 288.45,135.68 288.7,135.68 288.95,135.68 289.2,135.68 289.45,135.68 289.7,135.68 289.95,135.68 290.2,135.68 290.45,135.68 290.7,135.68 290.95,135.68 291.2,135.68 291.45,135.68 291.7,135.68 291.95,135.68 292.2,135.68 292.45,135.68 292.7,135.68 292.95,135.68 293.2,135.68 293.45,135.68 293.7,135.68 293.95,135.68 294.2,135.68 294.45,135.68 294.7,135.68 294.95,135.68 295.2,135.68 295.45,135.67 295.7,135.67 295.95,135.67 296.2,135.67 296.45,135.67 296.7,135.67 296.95,135.67 297.2,135.67 297.45,135.66 297.7,135.66 297.95,135.66 298.2,135.66 298.45,135.65 298.7,135.65 298.95,135.64 299.2,135.63 299.45,135.6 299.7,135.57 299.95,135.51 300.2,135.42 300.45,135.29 300.7,135.11 300.95,134.91 301.2,134.69 301.45,134.5 301.7,134.39 301.95,134.41 302.2,134.53 302.45,134.73 302.7,134.95 302.95,135.15 303.2,135.32 303.45,135.44 303.7,135.53 303.95,135.58 304.2,135.61 304.45,135.63 304.7,135.64 304.95,135.65 305.2,135.65 305.45,135.66 305.7,135.66 305.95,135.66 306.2,135.66 306.45,135.67 306.7,135.67 306.95,135.67 307.2,135.67 307.45,135.67 307.7,135.67 307.95,135.67 308.2,135.67 308.45,135.67 308.7,135.67 308.95,135.68 309.2,135.68 309.45,135.68 309.7,135.68 309.95,135.68 310.2,135.68 310.45,135.68 310.7,135.68 310.95,135.68 311.2,135.68 311.45,135.68 311.7,135.68 311.95,135.68 312.2,135.68 312.45,135.68 312.7,135.68 312.95,135.68 313.2,135.68 313.45,135.68 313.7,135.68 313.95,135.68 314.2,135.68 314.45,135.68 314.7,135.68 314.95,135.68 315.2,135.68 315.45,135.68 315.7,135.68 315.95,135.68 316.2,135.68 316.45,135.67 316.7,135.67 316.95,135.67 317.2,135.67 317.45,135.67 317.7,135.67 317.95,135.67 318.2,135.67 318.45,135.67 318.7,135.67 318.95,135.67 319.2,135.67 319.45,135.67 319.7,135.67 319.95,135.67 320.2,135.67 320.45,135.67 320.7,135.67 320.95,135.67 321.2,135.67 321.45,135.67 321.7,135.67 321.95,135.67 322.2,135.66 322.45,135.66 322.7,135.66 322.95,135.66 323.2,135.66 323.45,135.66 323.7,135.66 323.95,135.66 324.2,135.66 324.45,135.66 324.7,135.66 324.95,135.65 325.2,135.65 325.45,135.65 325.7,135.65 325.95,135.65 326.2,135.65 326.45,135.65 326.7,135.65 326.95,135.64 327.2,135.64 327.45,135.64 327.7,135.64 327.95,135.64 328.2,135.64 328.45,135.63 328.7,135.63 328.95,135.63 329.2,135.63 329.45,135.62 329.7,135.62 329.95,135.62 330.2,135.61 330.45,135.61 330.7,135.61 330.95,135.6 331.2,135.6 331.45,135.6 331.7,135.59 331.95,135.59 332.2,135.58 332.45,135.57 332.7,135.57 332.95,135.56 333.2,135.55 333.45,135.55 333.7,135.54 333.95,135.53 334.2,135.52 334.45,135.51 334.7,135.5 334.95,135.48 335.2,135.47 335.45,135.45 335.7,135.44 335.95,135.42 336.2,135.4 336.45,135.37 336.7,135.35 336.95,135.31 337.2,135.28 337.45,135.24 337.7,135.2 337.95,135.14 338.2,135.08 338.45,135.01 338.7,134.92 338.95,134.82 339.2,134.7 339.45,134.55 339.7,134.37 339.95,134.13 340.2,133.82 340.45,133.39 340.7,132.76 340.95,131.78 341.2,130.24 341.45,127.9 341.7,124.51 341.95,120.04 342.2,114.85 342.45,110.18 342.7,108.2 342.95,110.18 343.2,114.85 343.45,120.04 343.7,124.51 343.95,127.9 344.2,130.24 344.45,131.78 344.7,132.76 344.95,133.39 345.2,133.82 345.45,134.13 345.7,134.37 345.95,134.55 346.2,134.7 346.45,134.82 346.7,134.93 346.95,135.01 347.2,135.08 347.45,135.14 347.7,135.2 347.95,135.24 348.2,135.28 348.45,135.32 348.7,135.35 348.95,135.37 349.2,135.4 349.45,135.42 349.7,135.44 349.95,135.46 350.2,135.47 350.45,135.49 350.7,135.5 350.95,135.51 351.2,135.52 351.45,135.53 351.7,135.54 351.95,135.55 352.2,135.56 352.45,135.56 352.7,135.57 352.95,135.58 353.2,135.58 353.45,135.59 353.7,135.59 353.95,135.6 354.2,135.6 354.45,135.61 354.7,135.61 354.95,135.61 355.2,135.62 355.45,135.62 355.7,135.62 355.95,135.62 356.2,135.63 356.45,135.63 356.7,135.63 356.95,135.63 357.2,135.64 357.45,135.64 357.7,135.64 357.95,135.64 358.2,135.64 358.45,135.65 358.7,135.65 358.95,135.65 359.2,135.65 359.45,135.65 359.7,135.65 359.95,135.66 360.2,135.66 360.45,135.66 360.7,135.66 360.95,135.66 361.2,135.66 361.45,135.66 361.7,135.66 361.95,135.66 362.2,135.66 362.45,135.67 362.7,135.67 362.95,135.67 363.2,135.67 363.45,135.67 363.7,135.67 363.95,135.67 364.2,135.67 364.45,135.67 364.7,135.67 364.95,135.67 365.2,135.67 365.45,135.67 365.7,135.67 365.95,135.67 366.2,135.68 366.45,135.68 366.7,135.68 366.95,135.68 367.2,135.68 367.45,135.68 367.7,135.68 367.95,135.68 368.2,135.68 368.45,135.68 368.7,135.68 368.95,135.68 369.2,135.68 369.45,135.68 369.7,135.68 369.95,135.68 370.2,135.68 370.45,135.68 370.7,135.68 370.95,135.68 371.2,135.68 371.45,135.68 371.7,135.68 371.95,135.68 372.2,135.68 372.45,135.68 372.7,135.68 372.95,135.68 373.2,135.68 373.45,135.69 373.7,135.69 373.95,135.69 374.2,135.69 374.45,135.69 374.7,135.69 374.95,135.69 375.2,135.69 375.45,135.69 375.7,135.69 375.95,135.69 376.2,135.69 376.45,135.69 376.7,135.69 376.95,135.69 377.2,135.69 377.45,135.69 377.7,135.69 377.95,135.69 378.2,135.69 378.45,135.69 378.7,135.69 378.95,135.69 379.2,135.69 379.45,135.69 379.7,135.69 379.95,135.69 380.2,135.69" fill="none" stroke="#4d63e6" stroke-width="0.8"/>
<polyline points="183.2,158.4 183.45,158.4 183.7,158.4 183.95,158.4 184.2,158.4 184.45,158.4 184.7,158.4 184.95,158.4 185.2,158.4 185.45,158.4 185.7,158.4 185.95,158.4 186.2,158.4 186.45,158.4 186.7,158.4 186.95,158.4 187.2,158.4 187.45,158.4 187.7,158.4 187.95,158.4 188.2,158.4 188.45,158.4 188.7,158.4 188.95,158.4 189.2,158.4 189.45,158.4 189.7,158.4 189.95,158.4 190.2,158.4 190.45,158.4 190.7,158.4 190.95,158.4 191.2,158.4 191.45,158.4 191.7,158.4 191.95,158.4 192.2,158.4 192.45,158.4 192.7,158.4 192.95,158.4 193.2,158.4 193.45,158.4 193.7,158.4 193.95,158.4 194.2,158.4 194.45,158.4 194.7,158.4 194.95,158.4 195.2,158.4 195.45,158.4 195.7,158.4 195.95,158.4 196.2,158.4 196.45,158.4 196.7,158.4 196.95,158.4 197.2,158.4 197.45,158.4 197.7,158.4 197.95,158.4 198.2,158.4 198.45,158.4 198.7,158.4 198.95,158.4 199.2,158.4 199.45,158.4 199.7,158.4 199.95,158.4 200.2,158.4 200.45,158.4 200.7,158.4 200.95,158.4 201.2,158.4 201.45,158.4 201.7,158.4 201.95,158.4 202.2,158.4 202.45,158.39 202.7,158.39 202.95,158.39 203.2,158.39 203.45,158.39 203.7,158.39 203.95,158.39 204.2,158.39 204.45,158.39 204.7,158.39 204.95,158.39 205.2,158.39 205.45,158.39 205.7,158.39 205.95,158.39 206.2,158.39 206.45,158.39 206.7,158.39 206.95,158.39 207.2,158.39 207.45,158.39 207.7,158.39 207.95,158.39 208.2,158.39 208.45,158.39 208.7,158.39 208.95,158.39 209.2,158.39 209.45,158.39 209.7,158.39 209.95,158.39 210.2,158.39 210.45,158.39 210.7,158.39 210.95,158.39 211.2,158.39 211.45,158.39 211.7,158.39 211.95,158.39 212.2,158.39 212.45,158.39 212.7,158.39 212.95,158.39 213.2,158.39 213.45,158.39 213.7,158.39 213.95,158.38 214.2,158.38 214.45,158.38 214.7,158.38 214.95,158.38 215.2,158.38 215.45,158.38 215.7,158.37 215.95,158.37 216.2,158.37 216.45,158.36 216.7,158.36 216.95,158.35 217.2,158.34 217.45,158.31 217.7,158.27 217.95,158.18 218.2,158.04 218.45,157.84 218.7,157.59 218.95,157.35 219.2,157.2 219.45,157.22 219.7,157.39 219.95,157.64 220.2,157.88 220.45,158.07 220.7,158.2 220.95,158.28 221.2,158.32 221.45,158.34 221.7,158.35 221.95,158.36 222.2,158.36 222.45,158.36 222.7,158.37 222.95,158.37 223.2,158.37 223.45,158.37 223.7,158.37 223.95,158.37 224.2,158.38 224.45,158.38 224.7,158.38 224.95,158.38 225.2,158.38 225.45,158.38 225.7,158.38 225.95,158.38 226.2,158.38 226.45,158.38 226.7,158.38 226.95,158.38 227.2,158.38 227.45,158.38 227.7,158.38 227.95,158.38 228.2,158.38 228.45,158.37 228.7,158.37 228.95,158.37 229.2,158.37 229.45,158.37 229.7,158.37 229.95,158.37 230.2,158.37 230.45,158.37 230.7,158.37 230.95,158.37 231.2,158.37 231.45,158.37 231.7,158.37 231.95,158.36 232.2,158.36 232.45,158.36 232.7,158.36 232.95,158.36 233.2,158.36 233.45,158.36 233.7,158.36 233.95,158.35 234.2,158.35 234.45,158.35 234.7,158.35 234.95,158.35 235.2,158.34 235.45,158.34 235.7,158.34 235.95,158.34 236.2,158.34 236.45,158.33 236.7,158.33 236.95,158.33 237.2,158.32 237.45,158.32 237.7,158.31 237.95,158.31 238.2,158.3 238.45,158.3 238.7,158.29 238.95,158.29 239.2,158.28 239.45,158.27 239.7,158.26 239.95,158.26 240.2,158.24 240.45,158.23 240.7,158.22 240.95,158.21 241.2,158.19 241.45,158.17 241.7,158.15 241.95,158.13 242.2,158.1 242.45,158.07 242.7,158.04 242.95,158 243.2,157.95 243.45,157.89 243.7,157.83 243.95,157.74 244.2,157.64 244.45,157.51 244.7,157.33 244.95,157.09 245.2,156.72 245.45,156.14 245.7,155.2 245.95,153.74 246.2,151.6 246.45,148.73 246.7,145.33 246.95,142 247.2,139.91 247.45,140.16 247.7,142.61 247.95,146.03 248.2,149.36 248.45,152.09 248.7,154.08 248.95,155.43 249.2,156.28 249.45,156.81 249.7,157.15 249.95,157.37 250.2,157.54 250.45,157.66 250.7,157.76 250.95,157.84 251.2,157.91 251.45,157.96 251.7,158.01 251.95,158.05 252.2,158.08 252.45,158.11 252.7,158.14 252.95,158.16 253.2,158.18 253.45,158.19 253.7,158.21 253.95,158.22 254.2,158.24 254.45,158.25 254.7,158.26 254.95,158.27 255.2,158.27 255.45,158.28 255.7,158.29 255.95,158.29 256.2,158.3 256.45,158.31 256.7,158.31 256.95,158.31 257.2,158.32 257.45,158.32 257.7,158.33 257.95,158.33 258.2,158.33 258.45,158.34 258.7,158.34 258.95,158.34 259.2,158.34 259.45,158.35 259.7,158.35 259.95,158.35 260.2,158.35 260.45,158.35 260.7,158.36 260.95,158.36 261.2,158.36 261.45,158.36 261.7,158.36 261.95,158.36 262.2,158.36 262.45,158.36 262.7,158.37 262.95,158.37 263.2,158.37 263.45,158.37 263.7,158.37 263.95,158.37 264.2,158.37 264.45,158.37 264.7,158.37 264.95,158.37 265.2,158.37 265.45,158.37 265.7,158.38 265.95,158.38 266.2,158.38 266.45,158.38 266.7,158.38 266.95,158.38 267.2,158.38 267.45,158.38 267.7,158.38 267.95,158.38 268.2,158.38 268.45,158.38 268.7,158.38 268.95,158.38 269.2,158.38 269.45,158.38 269.7,158.38 269.95,158.38 270.2,158.38 270.45,158.38 270.7,158.38 270.95,158.38 271.2,158.38 271.45,158.38 271.7,158.38 271.95,158.39 272.2,158.39 272.45,158.39 272.7,158.39 272.95,158.39 273.2,158.39 273.45,158.39 273.7,158.39 273.95,158.39 274.2,158.39 274.45,158.39 274.7,158.39 274.95,158.39 275.2,158.39 275.45,158.39 275.7,158.39 275.95,158.39 276.2,158.39 276.45,158.39 276.7,158.39 276.95,158.39 277.2,158.39 277.45,158.39 277.7,158.39 277.95,158.39 278.2,158.39 278.45,158.39 278.7,158.39 278.95,158.39 279.2,158.39 279.45,158.39 279.7,158.39 279.95,158.39 280.2,158.39 280.45,158.39 280.7,158.39 280.95,158.39 281.2,158.39 281.45,158.39 281.7,158.39 281.95,158.39 282.2,158.39 282.45,158.39 282.7,158.39 282.95,158.39 283.2,158.39 283.45,158.39 283.7,158.39 283.95,158.39 284.2,158.39 284.45,158.39 284.7,158.39 284.95,158.39 285.2,158.39 285.45,158.39 285.7,158.39 285.95,158.39 286.2,158.39 286.45,158.39 286.7,158.39 286.95,158.39 287.2,158.39 287.45,158.39 287.7,158.39 287.95,158.39 288.2,158.39 288.45,158.39 288.7,158.39 288.95,158.39 289.2,158.39 289.45,158.38 289.7,158.38 289.95,158.38 290.2,158.38 290.45,158.38 290.7,158.38 290.95,158.38 291.2,158.37 291.45,158.37 291.7,158.36 291.95,158.36 292.2,158.34 292.45,158.32 292.7,158.28 292.95,158.21 293.2,158.11 293.45,157.97 293.7,157.81 293.95,157.65 294.2,157.53 294.45,157.5 294.7,157.57 294.95,157.71 295.2,157.88 295.45,158.03 295.7,158.16 295.95,158.24 296.2,158.3 296.45,158.33 296.7,158.35 296.95,158.36 297.2,158.37 297.45,158.37 297.7,158.37 297.95,158.38 298.2,158.38 298.45,158.38 298.7,158.38 298.95,158.38 299.2,158.38 299.45,158.38 299.7,158.39 299.95,158.39 300.2,158.39 300.45,158.39 300.7,158.39 300.95,158.39 301.2,158.39 301.45,158.39 301.7,158.39 301.95,158.39 302.2,158.39 302.45,158.39 302.7,158.39 302.95,158.39 303.2,158.39 303.45,158.39 303.7,158.39 303.95,158.39 304.2,158.39 304.45,158.39 304.7,158.39 304.95,158.39 305.2,158.39 305.45,158.39 305.7,158.39 305.95,158.39 306.2,158.39 306.45,158.39 306.7,158.39 306.95,158.39 307.2,158.39 307.45,158.39 307.7,158.39 307.95,158.39 308.2,158.39 308.45,158.39 308.7,158.39 308.95,158.39 309.2,158.39 309.45,158.39 309.7,158.39 309.95,158.39 310.2,158.39 310.45,158.39 310.7,158.39 310.95,158.39 311.2,158.39 311.45,158.39 311.7,158.39 311.95,158.39 312.2,158.39 312.45,158.39 312.7,158.39 312.95,158.39 313.2,158.39 313.45,158.39 313.7,158.39 313.95,158.39 314.2,158.39 314.45,158.39 314.7,158.39 314.95,158.39 315.2,158.39 315.45,158.39 315.7,158.38 315.95,158.38 316.2,158.38 316.45,158.38 316.7,158.38 316.95,158.38 317.2,158.38 317.45,158.38 317.7,158.38 317.95,158.38 318.2,158.38 318.45,158.38 318.7,158.38 318.95,158.38 319.2,158.38 319.45,158.38 319.7,158.38 319.95,158.38 320.2,158.38 320.45,158.38 320.7,158.38 320.95,158.38 321.2,158.37 321.45,158.37 321.7,158.37 321.95,158.37 322.2,158.37 322.45,158.37 322.7,158.37 322.95,158.37 323.2,158.37 323.45,158.37 323.7,158.36 323.95,158.36 324.2,158.36 324.45,158.36 324.7,158.36 324.95,158.36 325.2,158.35 325.45,158.35 325.7,158.35 325.95,158.35 326.2,158.35 326.45,158.34 326.7,158.34 326.95,158.34 327.2,158.33 327.45,158.33 327.7,158.33 327.95,158.32 328.2,158.32 328.45,158.31 328.7,158.31 328.95,158.3 329.2,158.29 329.45,158.28 329.7,158.28 329.95,158.27 330.2,158.25 330.45,158.24 330.7,158.23 330.95,158.21 331.2,158.19 331.45,158.17 331.7,158.15 331.95,158.12 332.2,158.09 332.45,158.05 332.7,158 332.95,157.94 333.2,157.87 333.45,157.78 333.7,157.66 333.95,157.49 334.2,157.23 334.45,156.83 334.7,156.18 334.95,155.16 335.2,153.67 335.45,151.68 335.7,149.31 335.95,147 336.2,145.54 336.45,145.72 336.7,147.42 336.95,149.8 337.2,152.11 337.45,154.01 337.7,155.4 337.95,156.33 338.2,156.93 338.45,157.29 338.7,157.53 338.95,157.69 339.2,157.8 339.45,157.89 339.7,157.95 339.95,158.01 340.2,158.06 340.45,158.09 340.7,158.13 340.95,158.15 341.2,158.18 341.45,158.2 341.7,158.22 341.95,158.23 342.2,158.25 342.45,158.26 342.7,158.27 342.95,158.28 343.2,158.29 343.45,158.29 343.7,158.3 343.95,158.31 344.2,158.31 344.45,158.32 344.7,158.32 344.95,158.33 345.2,158.33 345.45,158.33 345.7,158.34 345.95,158.34 346.2,158.34 346.45,158.35 346.7,158.35 346.95,158.35 347.2,158.35 347.45,158.36 347.7,158.36 347.95,158.36 348.2,158.36 348.45,158.36 348.7,158.36 348.95,158.37 349.2,158.37 349.45,158.37 349.7,158.37 349.95,158.37 350.2,158.37 350.45,158.37 350.7,158.37 350.95,158.37 351.2,158.37 351.45,158.38 351.7,158.38 351.95,158.38 352.2,158.38 352.45,158.38 352.7,158.38 352.95,158.38 353.2,158.38 353.45,158.38 353.7,158.38 353.95,158.38 354.2,158.38 354.45,158.38 354.7,158.38 354.95,158.38 355.2,158.38 355.45,158.38 355.7,158.38 355.95,158.39 356.2,158.39 356.45,158.39 356.7,158.39 356.95,158.39 357.2,158.39 357.45,158.39 357.7,158.39 357.95,158.39 358.2,158.39 358.45,158.39 358.7,158.39 358.95,158.39 359.2,158.39 359.45,158.39 359.7,158.39 359.95,158.39 360.2,158.39 360.45,158.39 360.7,158.39 360.95,158.39 361.2,158.39 361.45,158.39 361.7,158.39 361.95,158.39 362.2,158.39 362.45,158.39 362.7,158.39 362.95,158.39 363.2,158.39 363.45,158.39 363.7,158.39 363.95,158.39 364.2,158.39 364.45,158.39 364.7,158.39 364.95,158.39 365.2,158.39 365.45,158.39 365.7,158.39 365.95,158.39 366.2,158.39 366.45,158.39 366.7,158.39 366.95,158.39 367.2,158.39 367.45,158.39 367.7,158.39 367.95,158.39 368.2,158.39 368.45,158.39 368.7,158.39 368.95,158.39 369.2,158.39 369.45,158.39 369.7,158.39 369.95,158.39 370.2,158.39 370.45,158.39 370.7,158.39 370.95,158.39 371.2,158.39 371.45,158.4 371.7,158.4 371.95,158.4 372.2,158.4 372.45,158.4 372.7,158.4 372.95,158.4 373.2,158.4 373.45,158.4 373.7,158.4 373.95,158.4 374.2,158.4 374.45,158.4 374.7,158.4 374.95,158.4 375.2,158.4 375.45,158.4 375.7,158.4 375.95,158.4 376.2,158.4 376.45,158.4 376.7,158.4 376.95,158.4 377.2,158.4 377.45,158.4 377.7,158.4 377.95,158.4 378.2,158.4 378.45,158.4 378.7,158.4 378.95,158.4 379.2,158.4 379.45,158.4 379.7,158.4 379.95,158.4 380.2,158.4" fill="none" stroke="#3bd23b" stroke-width="0.8"/>
<polyline points="183.2,176.2 183.45,176.2 183.7,176.2 183.95,176.2 184.2,176.2 184.45,176.2 184.7,176.2 184.95,176.2 185.2,176.2 185.45,176.2 185.7,176.2 185.95,176.2 186.2,176.2 186.45,176.2 186.7,176.2 186.95,176.2 187.2,176.2 187.45,176.2 187.7,176.2 187.95,176.2 188.2,176.2 188.45,176.2 188.7,176.2 188.95,176.2 189.2,176.2 189.45,176.2 189.7,176.2 189.95,176.2 190.2,176.2 190.45,176.2 190.7,176.2 190.95,176.2 191.2,176.2 191.45,176.2 191.7,176.2 191.95,176.2 192.2,176.2 192.45,176.2 192.7,176.2 192.95,176.2 193.2,176.2 193.45,176.2 193.7,176.2 193.95,176.2 194.2,176.2 194.45,176.2 194.7,176.2 194.95,176.2 195.2,176.2 195.45,176.2 195.7,176.2 195.95,176.2 196.2,176.2 196.45,176.2 196.7,176.2 196.95,176.2 197.2,176.2 197.45,176.2 197.7,176.2 197.95,176.2 198.2,176.2 198.45,176.2 198.7,176.2 198.95,176.2 199.2,176.2 199.45,176.2 199.7,176.2 199.95,176.2 200.2,176.2 200.45,176.2 200.7,176.2 200.95,176.2 201.2,176.2 201.45,176.2 201.7,176.2 201.95,176.2 202.2,176.2 202.45,176.2 202.7,176.2 202.95,176.2 203.2,176.2 203.45,176.2 203.7,176.2 203.95,176.2 204.2,176.2 204.45,176.2 204.7,176.2 204.95,176.2 205.2,176.2 205.45,176.2 205.7,176.2 205.95,176.2 206.2,176.2 206.45,176.2 206.7,176.2 206.95,176.2 207.2,176.2 207.45,176.2 207.7,176.2 207.95,176.2 208.2,176.19 208.45,176.19 208.7,176.19 208.95,176.19 209.2,176.19 209.45,176.19 209.7,176.19 209.95,176.19 210.2,176.19 210.45,176.19 210.7,176.19 210.95,176.19 211.2,176.19 211.45,176.19 211.7,176.19 211.95,176.19 212.2,176.19 212.45,176.19 212.7,176.19 212.95,176.19 213.2,176.19 213.45,176.19 213.7,176.19 213.95,176.19 214.2,176.19 214.45,176.19 214.7,176.19 214.95,176.19 215.2,176.19 215.45,176.19 215.7,176.19 215.95,176.18 216.2,176.18 216.45,176.18 216.7,176.18 216.95,176.18 217.2,176.18 217.45,176.17 217.7,176.17 217.95,176.16 218.2,176.14 218.45,176.1 218.7,176.04 218.95,175.93 219.2,175.79 219.45,175.63 219.7,175.47 219.95,175.39 220.2,175.43 220.45,175.56 220.7,175.73 220.95,175.88 221.2,176 221.45,176.08 221.7,176.12 221.95,176.15 222.2,176.16 222.45,176.17 222.7,176.17 222.95,176.17 223.2,176.18 223.45,176.18 223.7,176.18 223.95,176.18 224.2,176.18 224.45,176.18 224.7,176.18 224.95,176.18 225.2,176.18 225.45,176.18 225.7,176.18 225.95,176.18 226.2,176.18 226.45,176.18 226.7,176.18 226.95,176.18 227.2,176.18 227.45,176.18 227.7,176.18 227.95,176.18 228.2,176.18 228.45,176.18 228.7,176.18 228.95,176.18 229.2,176.18 229.45,176.18 229.7,176.18 229.95,176.18 230.2,176.18 230.45,176.18 230.7,176.18 230.95,176.18 231.2,176.18 231.45,176.18 231.7,176.18 231.95,176.18 232.2,176.18 232.45,176.17 232.7,176.17 232.95,176.17 233.2,176.17 233.45,176.17 233.7,176.17 233.95,176.17 234.2,176.17 234.45,176.17 234.7,176.17 234.95,176.17 235.2,176.16 235.45,176.16 235.7,176.16 235.95,176.16 236.2,176.16 236.45,176.16 236.7,176.15 236.95,176.15 237.2,176.15 237.45,176.15 237.7,176.15 237.95,176.14 238.2,176.14 238.45,176.14 238.7,176.13 238.95,176.13 239.2,176.13 239.45,176.12 239.7,176.12 239.95,176.11 240.2,176.11 240.45,176.1 240.7,176.1 240.95,176.09 241.2,176.08 241.45,176.07 241.7,176.06 241.95,176.05 242.2,176.04 242.45,176.03 242.7,176.01 242.95,176 243.2,175.98 243.45,175.95 243.7,175.93 243.95,175.9 244.2,175.86 244.45,175.82 244.7,175.76 244.95,175.7 245.2,175.62 245.45,175.52 245.7,175.39 245.95,175.21 246.2,174.93 246.45,174.48 246.7,173.77 246.95,172.66 247.2,171.04 247.45,168.86 247.7,166.27 247.95,163.75 248.2,162.16 248.45,162.35 248.7,164.21 248.95,166.81 249.2,169.34 249.45,171.41 249.7,172.92 249.95,173.94 250.2,174.59 250.45,174.99 250.7,175.25 250.95,175.42 251.2,175.54 251.45,175.64 251.7,175.71 251.95,175.77 252.2,175.82 252.45,175.87 252.7,175.9 252.95,175.93 253.2,175.96 253.45,175.98 253.7,176 253.95,176.02 254.2,176.03 254.45,176.04 254.7,176.06 254.95,176.07 255.2,176.08 255.45,176.08 255.7,176.09 255.95,176.1 256.2,176.1 256.45,176.11 256.7,176.12 256.95,176.12 257.2,176.12 257.45,176.13 257.7,176.13 257.95,176.14 258.2,176.14 258.45,176.14 258.7,176.14 258.95,176.15 259.2,176.15 259.45,176.15 259.7,176.15 259.95,176.16 260.2,176.16 260.45,176.16 260.7,176.16 260.95,176.16 261.2,176.16 261.45,176.16 261.7,176.17 261.95,176.17 262.2,176.17 262.45,176.17 262.7,176.17 262.95,176.17 263.2,176.17 263.45,176.17 263.7,176.17 263.95,176.17 264.2,176.18 264.45,176.18 264.7,176.18 264.95,176.18 265.2,176.18 265.45,176.18 265.7,176.18 265.95,176.18 266.2,176.18 266.45,176.18 266.7,176.18 266.95,176.18 267.2,176.18 267.45,176.18 267.7,176.18 267.95,176.18 268.2,176.18 268.45,176.18 268.7,176.18 268.95,176.18 269.2,176.19 269.45,176.19 269.7,176.19 269.95,176.19 270.2,176.19 270.45,176.19 270.7,176.19 270.95,176.19 271.2,176.19 271.45,176.19 271.7,176.19 271.95,176.19 272.2,176.19 272.45,176.19 272.7,176.19 272.95,176.19 273.2,176.19 273.45,176.19 273.7,176.19 273.95,176.19 274.2,176.19 274.45,176.19 274.7,176.19 274.95,176.19 275.2,176.19 275.45,176.19 275.7,176.19 275.95,176.19 276.2,176.19 276.45,176.19 276.7,176.19 276.95,176.19 277.2,176.19 277.45,176.19 277.7,176.19 277.95,176.19 278.2,176.19 278.45,176.19 278.7,176.19 278.95,176.19 279.2,176.19 279.45,176.19 279.7,176.19 279.95,176.19 280.2,176.19 280.45,176.19 280.7,176.19 280.95,176.19 281.2,176.19 281.45,176.19 281.7,176.19 281.95,176.19 282.2,176.19 282.45,176.19 282.7,176.19 282.95,176.19 283.2,176.19 283.45,176.19 283.7,176.19 283.95,176.19 284.2,176.19 284.45,176.19 284.7,176.19 284.95,176.19 285.2,176.19 285.45,176.19 285.7,176.19 285.95,176.19 286.2,176.19 286.45,176.19 286.7,176.19 286.95,176.19 287.2,176.19 287.45,176.19 287.7,176.19 287.95,176.19 288.2,176.19 288.45,176.19 288.7,176.19 288.95,176.19 289.2,176.19 289.45,176.19 289.7,176.19 289.95,176.19 290.2,176.19 290.45,176.19 290.7,176.19 290.95,176.19 291.2,176.18 291.45,176.18 291.7,176.18 291.95,176.18 292.2,176.18 292.45,176.17 292.7,176.17 292.95,176.17 293.2,176.16 293.45,176.14 293.7,176.12 293.95,176.07 294.2,176 294.45,175.89 294.7,175.75 294.95,175.58 295.2,175.42 295.45,175.31 295.7,175.3 295.95,175.39 296.2,175.55 296.45,175.71 296.7,175.86 296.95,175.98 297.2,176.06 297.45,176.11 297.7,176.14 297.95,176.15 298.2,176.16 298.45,176.17 298.7,176.17 298.95,176.18 299.2,176.18 299.45,176.18 299.7,176.18 299.95,176.18 300.2,176.19 300.45,176.19 300.7,176.19 300.95,176.19 301.2,176.19 301.45,176.19 301.7,176.19 301.95,176.19 302.2,176.19 302.45,176.19 302.7,176.19 302.95,176.19 303.2,176.19 303.45,176.19 303.7,176.19 303.95,176.19 304.2,176.19 304.45,176.19 304.7,176.19 304.95,176.19 305.2,176.19 305.45,176.19 305.7,176.19 305.95,176.19 306.2,176.19 306.45,176.19 306.7,176.19 306.95,176.19 307.2,176.19 307.45,176.19 307.7,176.19 307.95,176.19 308.2,176.19 308.45,176.19 308.7,176.19 308.95,176.19 309.2,176.19 309.45,176.19 309.7,176.19 309.95,176.19 310.2,176.19 310.45,176.19 310.7,176.19 310.95,176.19 311.2,176.19 311.45,176.19 311.7,176.19 311.95,176.19 312.2,176.19 312.45,176.19 312.7,176.19 312.95,176.19 313.2,176.19 313.45,176.19 313.7,176.19 313.95,176.19 314.2,176.19 314.45,176.19 314.7,176.19 314.95,176.19 315.2,176.19 315.45,176.19 315.7,176.19 315.95,176.19 316.2,176.19 316.45,176.19 316.7,176.19 316.95,176.19 317.2,176.19 317.45,176.19 317.7,176.19 317.95,176.19 318.2,176.19 318.45,176.19 318.7,176.19 318.95,176.19 319.2,176.19 319.45,176.19 319.7,176.19 319.95,176.19 320.2,176.19 320.45,176.19 320.7,176.18 320.95,176.18 321.2,176.18 321.45,176.18 321.7,176.18 321.95,176.18 322.2,176.18 322.45,176.18 322.7,176.18 322.95,176.18 323.2,176.18 323.45,176.18 323.7,176.18 323.95,176.18 324.2,176.18 324.45,176.18 324.7,176.17 324.95,176.17 325.2,176.17 325.45,176.17 325.7,176.17 325.95,176.17 326.2,176.17 326.45,176.17 326.7,176.17 326.95,176.16 327.2,176.16 327.45,176.16 327.7,176.16 327.95,176.16 328.2,176.15 328.45,176.15 328.7,176.15 328.95,176.15 329.2,176.14 329.45,176.14 329.7,176.13 329.95,176.13 330.2,176.12 330.45,176.12 330.7,176.11 330.95,176.11 331.2,176.1 331.45,176.09 331.7,176.08 331.95,176.07 332.2,176.06 332.45,176.04 332.7,176.03 332.95,176.01 333.2,175.98 333.45,175.96 333.7,175.92 333.95,175.88 334.2,175.83 334.45,175.77 334.7,175.69 334.95,175.57 335.2,175.39 335.45,175.11 335.7,174.66 335.95,173.96 336.2,172.93 336.45,171.55 336.7,169.91 336.95,168.31 337.2,167.3 337.45,167.42 337.7,168.6 337.95,170.25 338.2,171.85 338.45,173.16 338.7,174.12 338.95,174.77 339.2,175.18 339.45,175.43 339.7,175.6 339.95,175.71 340.2,175.78 340.45,175.84 340.7,175.89 340.95,175.93 341.2,175.96 341.45,175.99 341.7,176.01 341.95,176.03 342.2,176.05 342.45,176.06 342.7,176.07 342.95,176.08 343.2,176.09 343.45,176.1 343.7,176.11 343.95,176.12 344.2,176.12 344.45,176.13 344.7,176.13 344.95,176.14 345.2,176.14 345.45,176.14 345.7,176.15 345.95,176.15 346.2,176.15 346.45,176.15 346.7,176.16 346.95,176.16 347.2,176.16 347.45,176.16 347.7,176.16 347.95,176.17 348.2,176.17 348.45,176.17 348.7,176.17 348.95,176.17 349.2,176.17 349.45,176.17 349.7,176.17 349.95,176.18 350.2,176.18 350.45,176.18 350.7,176.18 350.95,176.18 351.2,176.18 351.45,176.18 351.7,176.18 351.95,176.18 352.2,176.18 352.45,176.18 352.7,176.18 352.95,176.18 353.2,176.18 353.45,176.18 353.7,176.19 353.95,176.19 354.2,176.19 354.45,176.19 354.7,176.19 354.95,176.19 355.2,176.19 355.45,176.19 355.7,176.19 355.95,176.19 356.2,176.19 356.45,176.19 356.7,176.19 356.95,176.19 357.2,176.19 357.45,176.19 357.7,176.19 357.95,176.19 358.2,176.19 358.45,176.19 358.7,176.19 358.95,176.19 359.2,176.19 359.45,176.19 359.7,176.19 359.95,176.19 360.2,176.19 360.45,176.19 360.7,176.19 360.95,176.19 361.2,176.19 361.45,176.19 361.7,176.19 361.95,176.19 362.2,176.19 362.45,176.19 362.7,176.19 362.95,176.19 363.2,176.19 363.45,176.19 363.7,176.19 363.95,176.19 364.2,176.19 364.45,176.19 364.7,176.19 364.95,176.19 365.2,176.19 365.45,176.19 365.7,176.19 365.95,176.19 366.2,176.19 366.45,176.2 366.7,176.2 366.95,176.2 367.2,176.2 367.45,176.2 367.7,176.2 367.95,176.2 368.2,176.2 368.45,176.2 368.7,176.2 368.95,176.2 369.2,176.2 369.45,176.2 369.7,176.2 369.95,176.2 370.2,176.2 370.45,176.2 370.7,176.2 370.95,176.2 371.2,176.2 371.45,176.2 371.7,176.2 371.95,176.2 372.2,176.2 372.45,176.2 372.7,176.2 372.95,176.2 373.2,176.2 373.45,176.2 373.7,176.2 373.95,176.2 374.2,176.2 374.45,176.2 374.7,176.2 374.95,176.2 375.2,176.2 375.45,176.2 375.7,176.2 375.95,176.2 376.2,176.2 376.45,176.2 376.7,176.2 376.95,176.2 377.2,176.2 377.45,176.2 377.7,176.2 377.95,176.2 378.2,176.2 378.45,176.2 378.7,176.2 378.95,176.2 379.2,176.2 379.45,176.2 379.7,176.2 379.95,176.2 380.2,176.2" fill="none" stroke="#ff3a58" stroke-width="0.8"/>
<text transform="translate(219.2 90) scale(0.86 1)" class="cl">#AgBr</text>
<text transform="translate(247 46.7) scale(0.86 1)" class="cl">#AgBr</text>
<text transform="translate(335.6 60) scale(0.86 1)" class="cl">#AgBr</text>
<text transform="translate(380.1 50.1) scale(0.86 1)" text-anchor="end" class="cl">AgBr_LiBr_PVP</text>
<text transform="translate(379.4 103.5) scale(0.84 1)" text-anchor="end" class="cl" style="fill:#4458ee">AgBr_LiBr_PVP_<tspan font-style="italic">after</tspan></text>
<text x="296.0" y="132.3" class="cl" style="fill:#444"><tspan style="font-size:7.3px">@</tspan><tspan dx="-0.5" style="font-size:6.3px">Ag</tspan></text>
<text transform="translate(379.6 143.6) scale(0.84 1)" text-anchor="end" class="cl" style="fill:#3bd23b">AgBr_LiBr_PVP_<tspan font-style="italic">cleaned catalysts</tspan></text>
<text transform="translate(380.1 188.6) scale(0.84 1)" text-anchor="end" class="cl" style="fill:#ff3a58">AgBr_LiBr_PVP_<tspan font-style="italic">sequential</tspan></text>
</svg>
</body></html>
